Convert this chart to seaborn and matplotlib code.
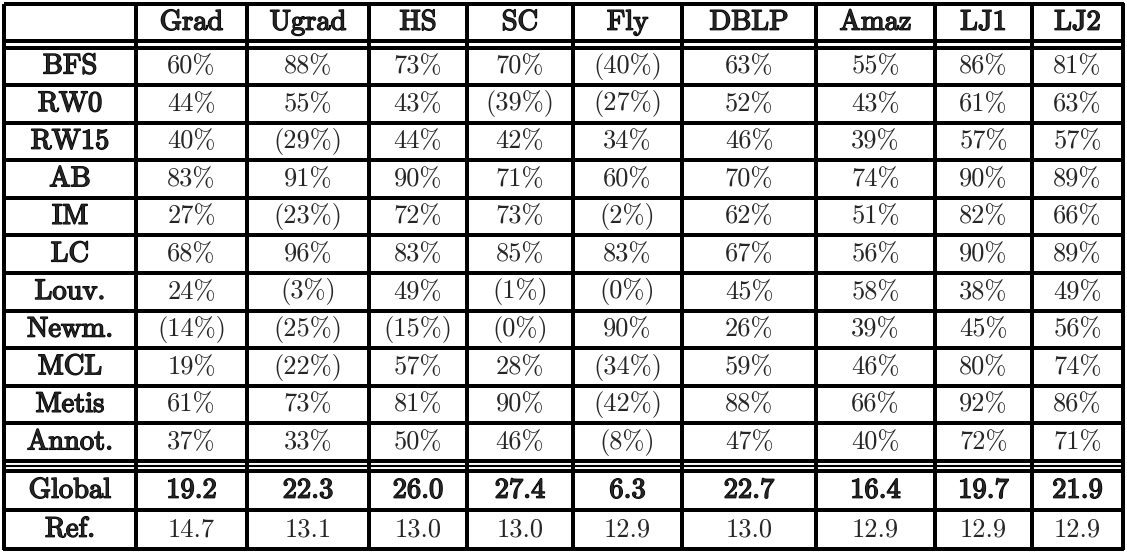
import numpy as np
import seaborn as sns
import matplotlib.pyplot as plt
import matplotlib.patheffects as pe
from matplotlib.colors import ListedColormap

datasets = ["Grad", "Ugrad", "HS", "SC", "Fly", "DBLP", "Amaz", "LJ1", "LJ2"]
methods = ["BFS", "RW0", "RW15", "AB", "IM", "LC", "Louv.", "Newm.", "MCL", "Metis", "Annot."]

bfs = [60, 88, 73, 70, 40, 63, 55, 86, 81]
rw0 = [44, 55, 43, 39, 27, 52, 43, 61, 63]
rw15 = [40, 29, 44, 42, 34, 46, 39, 57, 57]
ab = [83, 91, 90, 71, 60, 70, 74, 90, 89]
im = [27, 23, 72, 73, 2, 62, 51, 82, 66]
lc = [68, 96, 83, 85, 83, 67, 56, 90, 89]
louv = [24, 3, 49, 1, 0, 45, 58, 38, 49]
newm = [14, 25, 15, 0, 90, 26, 39, 45, 56]
mcl = [19, 22, 57, 28, 34, 59, 46, 80, 74]
metis = [61, 73, 81, 90, 42, 88, 66, 92, 86]
annot = [37, 33, 50, 46, 8, 47, 40, 72, 71]
scores = [bfs, rw0, rw15, ab, im, lc, louv, newm, mcl, metis, annot]

# cells written in parentheses in the original table
bracketed = {
    "BFS": ["Fly"],
    "RW0": ["SC", "Fly"],
    "RW15": ["Ugrad"],
    "IM": ["Ugrad", "Fly"],
    "Louv.": ["Ugrad", "SC", "Fly"],
    "Newm.": ["Grad", "Ugrad", "HS", "SC"],
    "MCL": ["Ugrad", "Fly"],
    "Metis": ["Fly"],
    "Annot.": ["Fly"],
}

global_score = [19.2, 22.3, 26.0, 27.4, 6.3, 22.7, 16.4, 19.7, 21.9]
ref_score = [14.7, 13.1, 13.0, 13.0, 12.9, 13.0, 12.9, 12.9, 12.9]

# --- grid layout (pixels): header, gap, 11 method rows, gap, Global, Ref
W, H = 1127, 554
col_px = [4, 136, 247, 369, 467, 573, 682, 816, 935, 1032, 1123]
row_px = [4, 41] + list(np.linspace(47.5, 461, 12)) + [471, 510, 549]
n_rows = len(row_px) - 1
n_cols = len(col_px) - 1
gap_rows = [1, 13]

labels = np.full((n_rows, n_cols), "", dtype=object)
labels[0, 1:] = datasets
for i, (m, vals) in enumerate(zip(methods, scores)):
    r = i + 2
    labels[r, 0] = m
    for j, v in enumerate(vals):
        s = f"{v}%"
        if datasets[j] in bracketed.get(m, []):
            s = f"({s})"
        labels[r, j + 1] = s
labels[14, 0] = "Global"
labels[15, 0] = "Ref."
for j in range(len(datasets)):
    labels[14, j + 1] = f"{global_score[j]:.1f}"
    labels[15, j + 1] = f"{ref_score[j]:.1f}"

mask = np.zeros((n_rows, n_cols), dtype=bool)
mask[gap_rows, :] = True

fig = plt.figure(figsize=(W / 100, H / 100), dpi=100)
ax = fig.add_axes([col_px[0] / W, 1 - row_px[-1] / H,
                   (col_px[-1] - col_px[0]) / W, (row_px[-1] - row_px[0]) / H])

sns.heatmap(np.zeros((n_rows, n_cols)), mask=mask, cmap=ListedColormap(["white"]),
            cbar=False, annot=labels, fmt="", linewidths=1.5, linecolor="black",
            xticklabels=False, yticklabels=False,
            annot_kws={"fontsize": 19, "fontfamily": "cmr10"}, ax=ax)

# uneven column widths / row heights via piecewise-linear scales
xi = np.arange(len(col_px))
yi = np.arange(len(row_px))
ax.set_xscale("function", functions=(lambda v: np.interp(v, xi, col_px),
                                     lambda p: np.interp(p, col_px, xi)))
ax.set_yscale("function", functions=(lambda v: np.interp(v, yi, row_px),
                                     lambda p: np.interp(p, row_px, yi)))
ax.set_xlim(0, n_cols)
ax.set_ylim(n_rows, 0)
ax.set_axis_off()
ax.collections[0].set_clip_on(False)

# bold (extended look) for header row, first column and Global row
for t in ax.texts:
    x, y = t.get_position()
    r, c = int(y), int(x)
    if r == 0 or c == 0 or r == 14:
        t.set_fontsize(20.5)
        t.set_path_effects([pe.withStroke(linewidth=1.0, foreground="black")])

# middle rule of the triple line above Global
ax.axhline(13.5, color="black", linewidth=1.5, clip_on=False)

fig.savefig("out.png", dpi=100)
